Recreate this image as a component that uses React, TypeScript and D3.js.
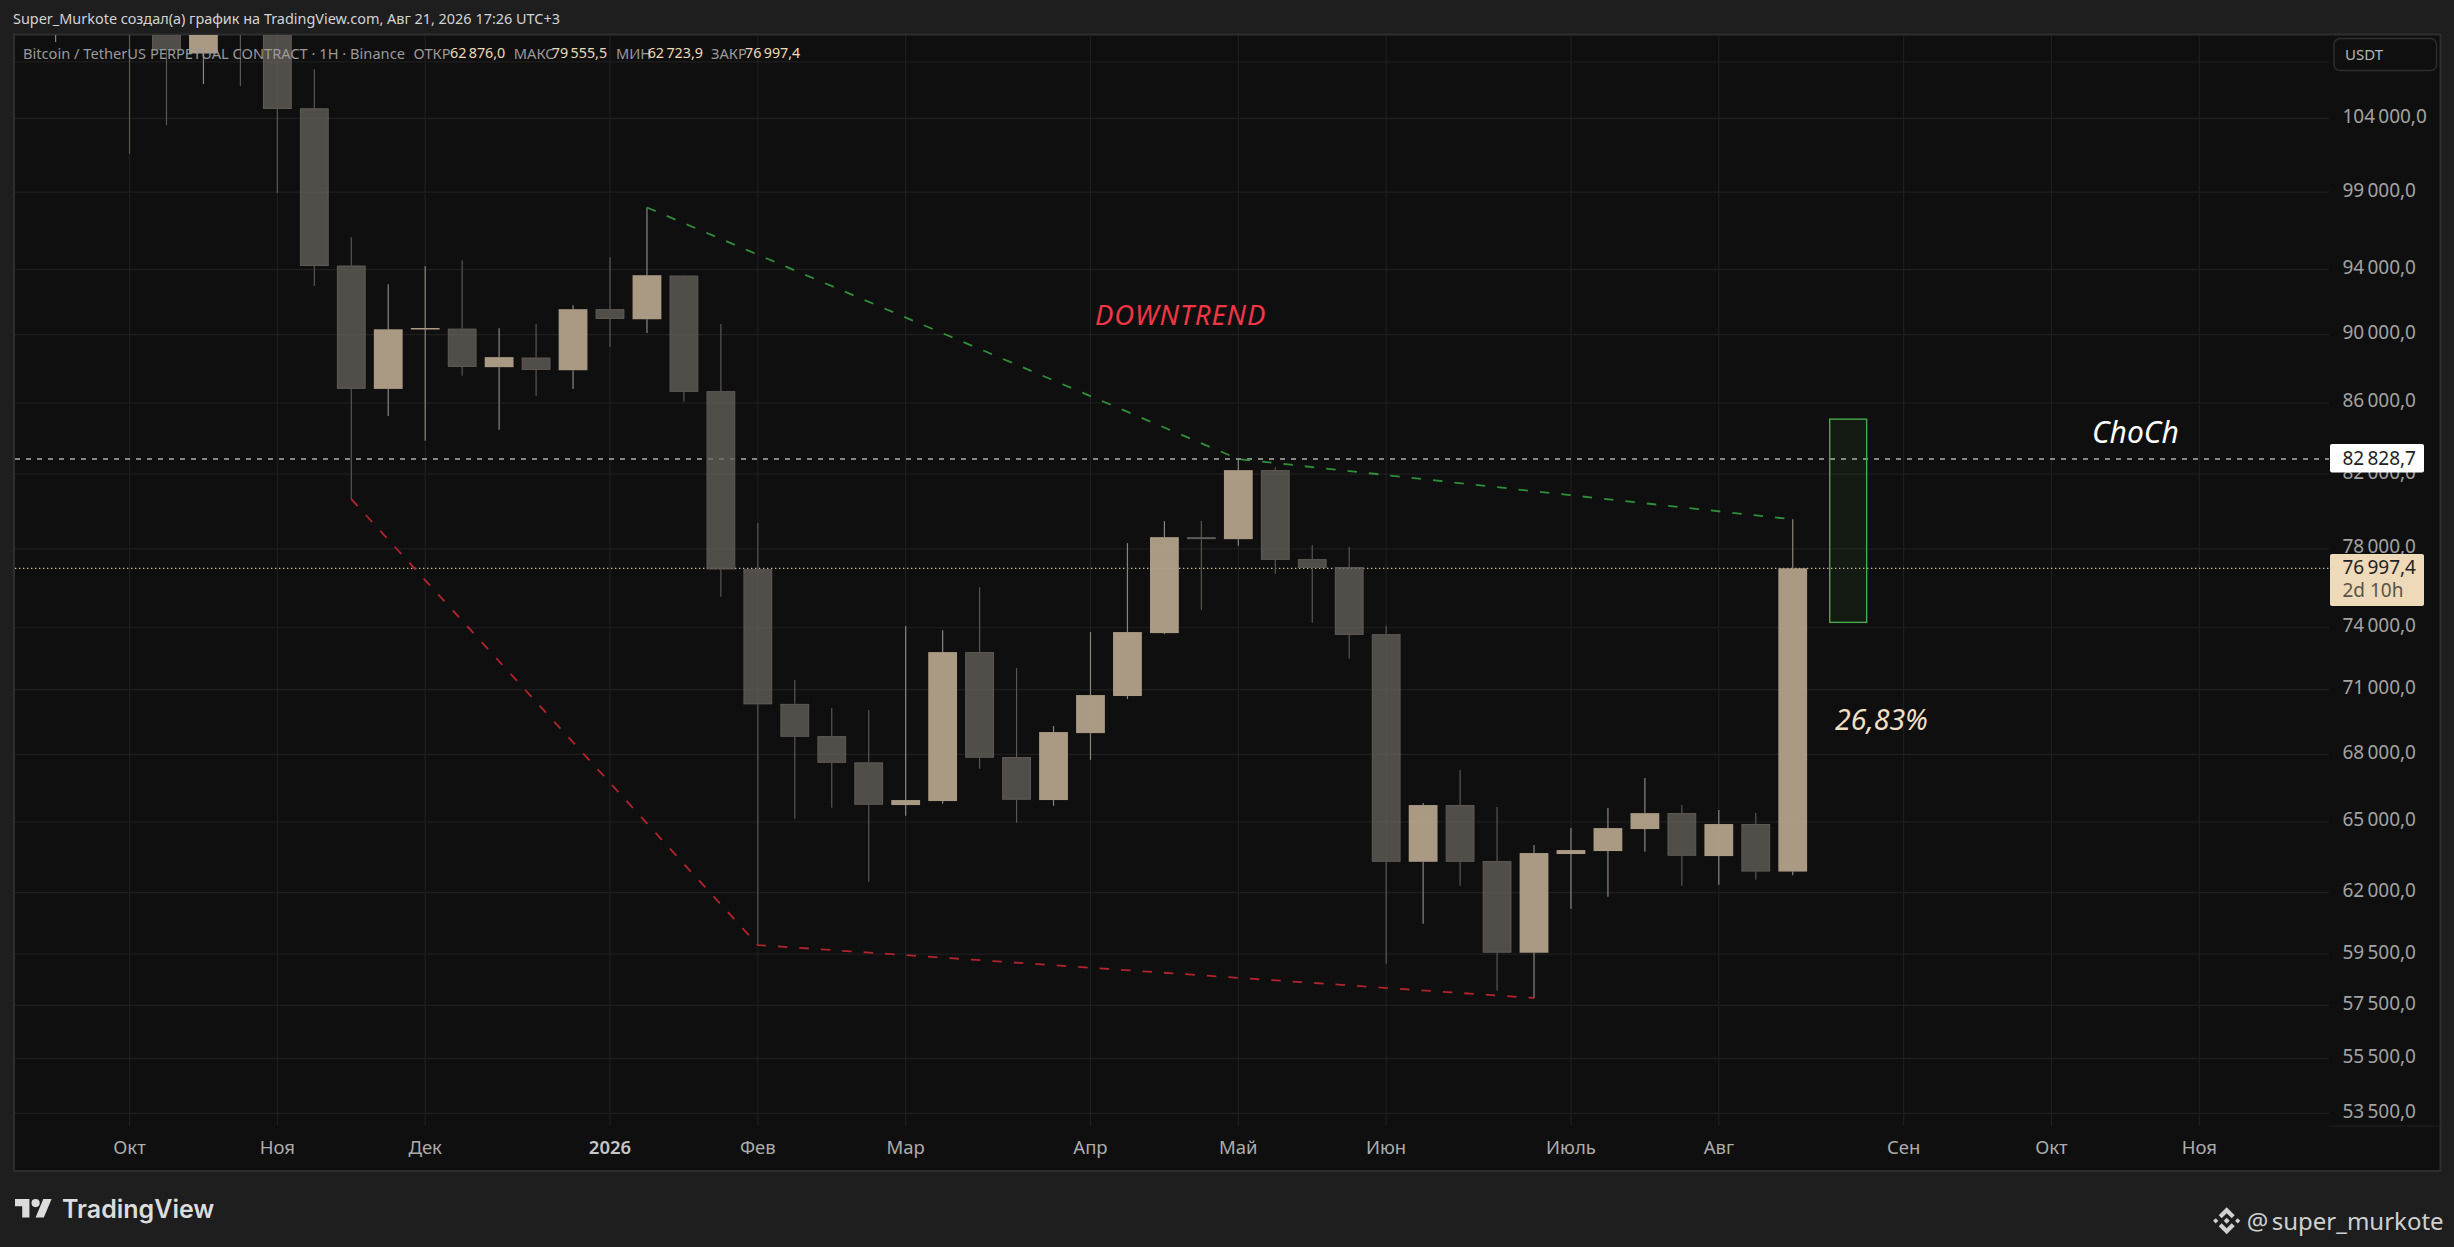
import React from "react";
import * as d3 from "d3";

const W = 2454;
const H = 1247;

// Weekly candles, left to right (one per week)
const opens = [110800,112000,114000,111500,108600,112000,112000,104700,94260,86800,90327,90370,88070,88640,87890,91550,90935,93630,86670,76950,70330,68830,67635,65733,65909,72806,67875,65953,68970,70700,73735,78616,78511,82216,77470,77060,73682,63288,65733,63318,59558,63617,63744,64687,65380,63530,64905,62876];
const highs = [113000,115500,116000,114000,112500,113500,113000,107470,96058,93087,94213,94595,90390,90640,91795,94786,97985,93650,90640,79360,71460,70132,70038,74080,73880,76034,72030,69295,73785,78303,79464,79464,82828.7,82380,78200,78095,74080,65820,67288,65647,64000,64730,65600,66930,65733,65513,65380,79555.5];
const lows = [109440,111500,101560,103520,106410,106270,98945,92985,80640,85248,83840,87560,84460,86400,86800,89274,90107,86054,75545,59865,65130,65614,62450,65261,65790,67345,64960,65702,67751,70556,73682,74891,78163,76715,74245,72479,59120,60725,62281,58064,57783,61334,61828,63715,62281,62322,62535,62723.9];
const closes = [112000,114000,112500,108840,111200,110600,104650,94230,86802,90327,90405,88084,88662,87910,91549,90953,93650,86630,76940,70307,68799,67614,65746,65953,72806,67842,65966,69018,70745,73785,78616,78511,82216,77434,77018,73648,63288,65733,63288,59558,63659,63787,64730,65380,63544,64905,62876,76997.4];

const priceLabels = [104000,99000,94000,90000,86000,82000,78000,74000,71000,68000,65000,62000,59500,57500,55500,53500];
const gridOnlyPrices = [108000];
const monthLabels = ["Окт","Ноя","Дек","2026","Фев","Мар","Апр","Май","Июн","Июль","Авг","Сен","Окт","Ноя"];
const monthIndex = [2,6,10,15,19,23,28,32,36,41,45,50,54,58];

const greenTrend: [number, number][] = [[16, 97985],[32, 82828.7],[47, 79555.5]];
const redTrend: [number, number][] = [[8, 80640],[19, 59865],[40, 57783]];
const zone = { i0: 48, i1: 49, top: 85065, bottom: 74265 };
const chochPrice = 82828.7;
const lastPrice = 76997.4;

const legendName = "Bitcoin / TetherUS PERPETUAL CONTRACT · 1H · Binance";
const legendKeys = ["ОТКР","МАКС","МИН","ЗАКР"];
const legendVals = [62876.0,79555.5,62723.9,76997.4];
const legendKeyX = [413.6,513.8,616,711];
const legendValX = [450,551.8,647.7,745];

const FONT = "'Noto Sans', sans-serif";
const PANE = { l: 15, r: 2329, t: 35, b: 1126 };

const ru = d3.formatLocale({ decimal: ",", thousands: "\u2009", grouping: [3], currency: ["", ""] });
const fmt = ru.format(",.1f");

const x = d3.scaleLinear().domain([0, 58]).range([55.6, 2199.3]);
const y = d3.scaleLog().domain([53500, 104000]).range([1113.3, 118.3]);

const trendLine = d3.line<[number, number]>().x((d) => x(d[0])).y((d) => y(d[1]));
const BODY = 28.8;

export default function App() {
  return (
    <div style={{ position: "fixed", left: 0, top: 0, width: W, height: H, overflow: "hidden" }}>
      <svg width={W} height={H} viewBox={`0 0 ${W} ${H}`} style={{ display: "block", fontFamily: FONT }}>
        <defs>
          <clipPath id="pane"><rect x={PANE.l} y={PANE.t} width={PANE.r - PANE.l} height={PANE.b - PANE.t} /></clipPath>
        </defs>
        <rect width={W} height={H} fill="#1e1e1e" />
        <rect x={14} y={34.5} width={2426.5} height={1136.5} fill="#0f0f0f" stroke="#2e2e2e" strokeWidth={2} />
        <text x={13} y={18.8} dominantBaseline="central" fontSize={14.45} fill="#d4d4d4">Super_Murkote создал(а) график на TradingView.com, Авг 21, 2026 17:26 UTC+3</text>

        <g stroke="#1f1f1f" strokeWidth={1.2}>
          {[...gridOnlyPrices, ...priceLabels].map((p) => (
            <line key={p} x1={PANE.l} x2={PANE.r} y1={y(p)} y2={y(p)} />
          ))}
          {monthIndex.map((m) => (
            <line key={m} x1={x(m)} x2={x(m)} y1={PANE.t} y2={PANE.b} />
          ))}
        </g>
        <line x1={PANE.r} x2={2441} y1={PANE.b} y2={PANE.b} stroke="#222" strokeWidth={1} />

        <g clipPath="url(#pane)">
          <line x1={PANE.l} x2={PANE.r} y1={y(chochPrice)} y2={y(chochPrice)} stroke="#fff" strokeWidth={1.2} strokeDasharray="5 6" />
          <line x1={PANE.l} x2={PANE.r} y1={y(lastPrice)} y2={y(lastPrice)} stroke="#cdbba1" strokeWidth={1.2} strokeDasharray="1.4 2.6" />

          {opens.map((o, i) => {
            const c = closes[i];
            const up = c >= o;
            const cx = x(i);
            const top = y(Math.max(o, c));
            const bot = y(Math.min(o, c));
            return (
              <g key={i}>
                <line x1={cx} x2={cx} y1={y(highs[i])} y2={top} stroke={up ? "#8d857a" : "#5a5652"} strokeWidth={1.2} />
                <line x1={cx} x2={cx} y1={bot} y2={y(lows[i])} stroke={up ? "#8d857a" : "#5a5652"} strokeWidth={1.2} />
                {up ? (
                  <rect x={cx - BODY / 2} y={top} width={BODY} height={Math.max(bot - top, 1.5)} fill="#b3a28b" fillOpacity={0.95} />
                ) : (
                  <rect x={cx - BODY / 2 + 0.5} y={top + 0.5} width={BODY - 1} height={Math.max(bot - top - 1, 1)} fill="#68635e" fillOpacity={0.75} stroke="#5f5b57" strokeWidth={1} />
                )}
              </g>
            );
          })}

          <path d={trendLine(greenTrend) ?? ""} fill="none" stroke="#2f8f3a" strokeWidth={1.8} strokeDasharray="9.5 12" />
          <path d={trendLine(redTrend) ?? ""} fill="none" stroke="#b2242f" strokeWidth={1.8} strokeDasharray="9.5 12" />
          <rect x={x(zone.i0)} y={y(zone.top)} width={x(zone.i1) - x(zone.i0)} height={y(zone.bottom) - y(zone.top)} fill="#4caf50" fillOpacity={0.08} stroke="#46a94b" strokeWidth={1.4} />

          <text x={1095} y={314.6} dominantBaseline="central" fontStyle="italic" fontSize={27.5} letterSpacing={1} fill="#f23645">DOWNTREND</text>
          <text x={2092} y={431.5} dominantBaseline="central" fontStyle="italic" fontSize={30} fill="#ffffff">ChoCh</text>
          <text x={1835} y={719} dominantBaseline="central" fontStyle="italic" fontSize={28.5} fill="#f0dfc4">26,83%</text>
        </g>

        <text x={23} y={52.8} dominantBaseline="central" fontSize={14.65} fill="#9a9a9a">{legendName}</text>
        {legendKeys.map((k, i) => (
          <React.Fragment key={k}>
            <text x={legendKeyX[i]} y={52.8} dominantBaseline="central" fontSize={14.65} fill="#9a9a9a">{k}</text>
            <text x={legendValX[i]} y={52.8} dominantBaseline="central" fontSize={14.3} fill="#f0d9b8">{fmt(legendVals[i])}</text>
          </React.Fragment>
        ))}

        {priceLabels.map((p) => (
          <text key={p} x={2342.5} y={y(p) - 2.5} dominantBaseline="central" fontSize={19} fill="#a3a3a3">{fmt(p)}</text>
        ))}
        {monthLabels.map((m, i) => (
          <text key={i} x={x(monthIndex[i])} y={1146.5} textAnchor="middle" dominantBaseline="central" fontSize={18.5} fontWeight={m === "2026" ? 600 : 400} fill={m === "2026" ? "#c6c6c6" : "#adadad"}>{m}</text>
        ))}

        <rect x={2334} y={38.5} width={102.5} height={32} rx={6} fill="#0f0f0f" stroke="#2e2e2e" strokeWidth={1.4} />
        <text x={2345} y={54} dominantBaseline="central" fontSize={15} fill="#b8b8b8">USDT</text>

        <rect x={2330} y={444} width={94} height={28.6} rx={2} fill="#ffffff" />
        <text x={2342.5} y={457.5} dominantBaseline="central" fontSize={19} fill="#222">{fmt(chochPrice)}</text>
        <rect x={2330} y={554} width={94} height={52} rx={2} fill="#eed9b8" />
        <text x={2342.5} y={567} dominantBaseline="central" fontSize={19} fill="#222">{fmt(lastPrice)}</text>
        <text x={2342.5} y={590} dominantBaseline="central" fontSize={19} fill="#5a5347">2d 10h</text>

        <g fill="#dcdcdc" transform={`translate(15,${1199 - 4 * 1.03}) scale(1.03)`}>
          <path d="M14 22H7V11H0V4h14v18zM28 22h-8l7.5-18h8L28 22z" />
          <circle cx={20} cy={8} r={4} />
        </g>
        <text x={62} y={1208.5} dominantBaseline="central" fontSize={25} fontWeight={600} fontFamily="Inter, sans-serif" fill="#dcdcdc">TradingView</text>

        <g fill="#d0d0d0" transform="translate(2226.7,1220.8)">
          <polygon points="0,-13.5 8,-5.5 5,-2.5 0,-7.5 -5,-2.5 -8,-5.5" />
          <polygon points="0,13.5 8,5.5 5,2.5 0,7.5 -5,2.5 -8,5.5" />
          <polygon points="0,-3 3,0 0,3 -3,0" />
          <polygon points="-11,-2.6 -8.4,0 -11,2.6 -13.6,0" />
          <polygon points="11,-2.6 13.6,0 11,2.6 8.4,0" />
        </g>
        <text x={2246.7} y={1220} dominantBaseline="central" fontSize={24} fill="#d0d0d0">@</text>
        <text x={2271.7} y={1220} dominantBaseline="central" fontSize={24} fill="#d0d0d0">super_murkote</text>
      </svg>
    </div>
  );
}
